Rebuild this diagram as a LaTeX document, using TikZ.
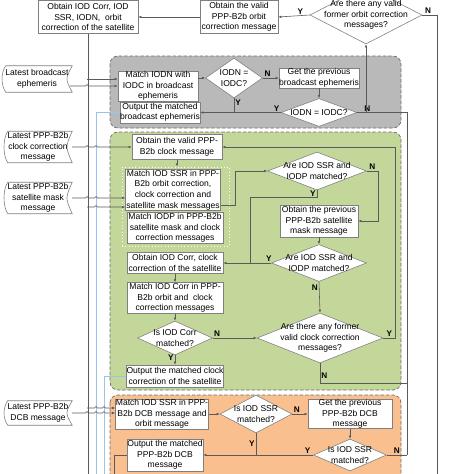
\documentclass[tikz,border=0pt]{standalone}
\usepackage{fontspec}
\setmainfont{Liberation Sans}
\usetikzlibrary{arrows.meta,calc,shapes.geometric}
\pgfdeclarelayer{bg}
\pgfdeclarelayer{mid}
\pgfsetlayers{bg,mid,main}
\definecolor{wire}{HTML}{5A5A5A}
\definecolor{boxline}{HTML}{7F7F7F}
\definecolor{regline}{HTML}{6E6E6E}
\definecolor{ephgray}{HTML}{B9B9B9}
\definecolor{clkgreen}{HTML}{C4D79B}
\definecolor{dcborange}{HTML}{F9BF8F}
\definecolor{wireblue}{HTML}{9DC3E6}
\newcommand\fs{\fontsize{7.3}{9}\selectfont}
% little bridge where a wire crosses a vertical one
\newcommand\hop[1]{-- ($(#1)+(-1.5,0)$) arc[start angle=180,end angle=360,radius=1.5]}
\tikzset{
  box/.style={draw=boxline,fill=white,align=center,inner sep=0pt,line width=0.5pt},
  sz/.style 2 args={minimum width=#1*0.03cm,minimum height=#2*0.03cm},
  dia/.style={diamond,draw=boxline,fill=white,inner sep=0pt,line width=0.5pt},
  dtxt/.style={align=center,inner sep=0pt},
  feed/.style={align=center,inner sep=0pt},
  yn/.style={font=\fontsize{7}{8}\selectfont\bfseries,inner sep=1pt},
  arr/.style={draw=wire,line width=0.5pt,-{Latex[length=2.6pt,width=2.2pt]}},
  wirel/.style={draw=wire,line width=0.5pt},
  bluel/.style={draw=wireblue,line width=0.7pt},
  region/.style={draw=regline,dash pattern=on 3pt off 1.6pt,line width=0.6pt,rounded corners=0.24cm}
}
\begin{document}
\begin{tikzpicture}[x=0.03cm,y=-0.03cm,every node/.style={font=\fs}]
        \useasboundingbox (0,0) rectangle (474,474);
        % top row
        \node[box,sz={100}{33}] (bOrbit) at (88,17) {Obtain IOD Corr, IOD\\SSR, IODN, \ orbit\\correction of the satellite};
        \node[box,sz={78}{33}] (bValid) at (239,17) {Obtain the valid\\PPP-B2b orbit\\correction message};
        \node[dia,sz={112}{58},label={[dtxt]center:Are there any valid\\former orbit correction\\messages?}] (dOrbit) at (366,15) {};
        % inputs
        \begin{scope}[every node/.style={feed,font=\fs}]
            \node[sz={70}{26}] (ephin) at (37,79) {Latest broadcast\\ephemeris};
            \node[sz={68}{31}] (clkin) at (38,147) {Latest PPP-B2b\\clock correction\\message};
            \node[sz={68}{31}] (maskin) at (38,198) {Latest PPP-B2b\\satellite mask\\message};
            \node[sz={68}{24}] (dcbin) at (38,413) {Latest PPP-B2b\\DCB message};
        \end{scope}
        % ephemeris block
        \node[box,sz={80}{30}] (mIODN) at (158,86) {Match IODN with\\IODC in broadcast\\ephemeris};
        \node[dia,sz={57}{40},label={[dtxt]center:IODN =\\IODC?}] (dIODN1) at (234,78) {};
        \node[box,sz={78}{20}] (bPrevEph) at (319,78) {Get the previous\\broadcast ephemeris};
        \node[dia,sz={76}{28},label={[dtxt]center:IODN = IODC?}] (dIODN2) at (319,112.5) {};
        \node[box,sz={80}{21}] (oEph) at (160,112.5) {Output the matched\\broadcast ephemeris};
        % clock block
        \node[box,sz={90}{25}] (bValidClk) at (177,147) {Obtain the valid PPP-\\B2b clock message};
        \node[draw=white,dotted,line width=0.8pt,sz={107}{79}] (grp) at (175.5,206.5) {};
        \node[box,sz={95}{41}] (mSSR) at (173,190) {Match IOD SSR in PPP-\\B2b orbit correction,\\clock correction and\\satellite mask messages};
        \node[box,sz={96}{31}] (mIODP) at (175,228) {Match IODP in PPP-B2b\\satellite mask and clock\\correction messages};
        \node[dia,sz={99}{38},label={[dtxt]center:Are IOD SSR and\\IODP matched?}] (dSSR1) at (317,171) {};
        \node[box,sz={78}{32}] (bPrevMask) at (319,221) {Obtain the previous\\PPP-B2b satellite\\mask message};
        \node[dia,sz={95}{37},label={[dtxt]center:Are IOD SSR and\\IODP matched?}] (dSSR2) at (319,263) {};
        \node[box,sz={96}{21}] (bCorr) at (175,263) {Obtain IOD Corr, clock\\correction of the satellite};
        \node[box,sz={96}{31}] (mCorr) at (175,298) {Match IOD Corr in PPP-\\B2b orbit and \ clock\\correction messages};
        \node[dia,sz={75}{34},label={[dtxt]center:Is IOD Corr\\matched?}] (dCorr) at (175,338) {};
        \node[dia,sz={126}{50},label={[dtxt]center:Are there any former\\valid clock correction\\messages?}] (dFormer) at (320,338) {};
        \node[box,sz={96}{22}] (oClk) at (175,376) {Output the matched clock\\correction of the satellite};
        % DCB block
        \node[box,sz={93}{30}] (mDCB) at (162,414) {Match IOD SSR in PPP-\\B2b DCB message and\\orbit message};
        \node[dia,sz={72}{38},label={[dtxt]center:Is IOD SSR\\matched?}] (dDCB1) at (256,414) {};
        \node[box,sz={84}{28}] (bPrevDCB) at (350,414) {Get the previous\\PPP-B2b DCB\\message};
        \node[dia,sz={73}{32},label={[dtxt]center:Is IOD SSR\\matched?}] (dDCB2) at (350,455) {};
        \node[box,sz={76}{32}] (oDCB) at (165,455) {Output the matched\\PPP-B2b DCB\\message};
        % bus lines
        \coordinate (gl) at (87,0);
        \coordinate (bl1) at (96,0);
        \coordinate (bl2) at (104,0);
        \coordinate (rl) at (407,0);
        \coordinate (fl) at (437,0);
        \coordinate (bot) at (0,476);
        \begin{pgfonlayer}{bg}
            \draw[region,fill=ephgray] (110,56) rectangle (401,128);
            \draw[region,fill=clkgreen] (110,132) rectangle (401,390);
            \draw[region,fill=dcborange] (110,395) rectangle (401,482);
        \end{pgfonlayer}
        \begin{pgfonlayer}{mid}
            \foreach \n in {ephin,clkin,maskin,dcbin}
                \draw[draw=boxline,fill=white,line width=0.5pt] ($(\n.north west)+(4,0)$) .. controls ($(\n.north west)+(-1,7)$) and ($(\n.south west)+(-1,-7)$) .. ($(\n.south west)+(4,0)$) -- (\n.south east) .. controls ($(\n.east)+(-7,0)$) .. (\n.north east) -- cycle;
        \end{pgfonlayer}
        % top
        \draw[arr] (dOrbit.west) -- node[yn,above,pos=0.3]{Y} (bValid.east);
        \draw[arr] (bValid.west) -- (bOrbit.east);
        \draw[wirel] (dOrbit.east) -- node[yn,above,pos=0.4]{N} (dOrbit.east -| fl) -- (fl |- bot);
        \draw[wirel] (bOrbit.south) -- (bOrbit.south |- bot);
        % ephemeris
        \coordinate (eIn) at ($(ephin.east)+(-2,7)$);
        \draw[arr] ($(mIODN.west -| gl)+(0,-7)$) -- ($(mIODN.west)+(0,-7)$);
        \draw[arr] (eIn) \hop{eIn -| gl} -- (eIn -| mIODN.west);
        \draw[arr] (mIODN.east |- dIODN1.west) -- (dIODN1.west);
        \draw[arr] (dIODN1.east) -- node[yn,above,pos=0.3]{N} (bPrevEph.west);
        \draw[arr] (bPrevEph.south) -- (dIODN2.north);
        \draw[wirel] (dIODN1.south) -- node[yn,right,pos=0.3]{Y} (dIODN1.south |- oEph.east);
        \draw[arr] (dIODN2.west) -- node[yn,above,pos=0.05]{Y} (oEph.east);
        \draw[wirel] (dIODN2.east) -- node[yn,above,pos=0.2]{N} (dIODN2.east -| rl) -- (rl |- dDCB2.east);
        \draw[arr] (dIODN2.east -| dOrbit.south) -- (dOrbit.south);
        \draw[bluel] (oEph.west) -- (oEph.west -| bl1) -- (bl1 |- bot);
        % clock
        \coordinate (gIn) at ($(mSSR.west -| gl)+(0,17)$);
        \draw[arr] (clkin.east) \hop{clkin.east -| gl} \hop{clkin.east -| bl1} -- (bValidClk.west);
        \draw[arr] (maskin.east) \hop{maskin.east -| gl} \hop{maskin.east -| bl1} -- (maskin.east -| mSSR.west);
        \draw[arr] (gIn) \hop{gIn -| bl1} -- (gIn -| mSSR.west);
        \draw[arr] (bValidClk.south) -- (bValidClk.south |- grp.north);
        \draw[arr] ($(mSSR.east)+(0,15)$) -- ++(14,0) |- (dSSR1.west);
        \draw[arr] (dSSR1.east) -- node[yn,above,pos=0.5]{N} ++(11,0) |- (bPrevMask.east);
        \draw[wirel] (dSSR1.south) -- node[yn,left,pos=0.5]{Y} ++(0,7) -| ($(bCorr.east)+(27,0)$);
        \draw[arr] (bPrevMask.south) -- (dSSR2.north);
        \draw[arr] (dSSR2.west) -- node[yn,above,pos=0.05]{Y} (bCorr.east);
        \draw[arr] (dSSR2.south) -- node[yn,left,pos=0.2]{N} (dFormer.north);
        \draw[arr] (dFormer.east) -- node[yn,above]{Y} ++(12,0) |- (bValidClk.east);
        \draw[wirel] (dFormer.south) -- node[yn,right,pos=0.6]{N} ++(0,20) coordinate (nc) -- (nc -| rl);
        \draw[arr] (bCorr.south) -- (mCorr.north);
        \draw[arr] (mCorr.south) -- (dCorr.north);
        \draw[arr] (dCorr.south) -- node[yn,left,pos=0.3]{Y} (oClk.north);
        \draw[arr] (dCorr.east) -- node[yn,above,pos=0.1]{N} (dFormer.west);
        \draw[bluel] (oClk.west) -- (oClk.west -| bl2) -- (bl2 |- bot);
        % DCB
        \coordinate (dIn) at ($(mDCB.west -| gl)+(0,-6)$);
        \draw[arr] (dIn) \hop{dIn -| bl1} \hop{dIn -| bl2} -- (dIn -| mDCB.west);
        \draw[arr] (dcbin.east) \hop{dcbin.east -| gl} \hop{dcbin.east -| bl1} \hop{dcbin.east -| bl2} -- (dcbin.east -| mDCB.west);
        \draw[arr] (mDCB.east) -- (dDCB1.west);
        \draw[arr] (dDCB1.east) -- node[yn,above,pos=0.3]{N} (bPrevDCB.west);
        \draw[arr] (bPrevDCB.south) -- (dDCB2.north);
        \draw[wirel] (dDCB1.south) -- node[yn,left,pos=0.5]{Y} (dDCB1.south |- dDCB2.west);
        \draw[arr] (dDCB2.west) -- node[yn,above,pos=0.05]{Y} (oDCB.east);
        \draw[wirel] (dDCB2.east) -- node[yn,above,pos=0.5]{N} (dDCB2.east -| rl);
        \draw[wirel] (oDCB.west) -- ++(-12,0) coordinate (oc) -- (oc |- bot);
    \end{tikzpicture}
\end{document}
